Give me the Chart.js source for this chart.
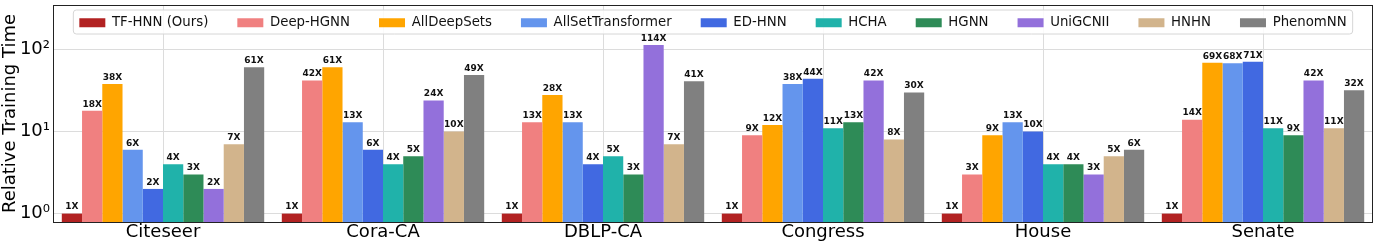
<!DOCTYPE html>
<html lang="en">
<head>
    <script src="https://cdn.jsdelivr.net/npm/chart.js"></script>
    <style>
        html, body { margin: 0; padding: 0; background: #fff; }
    </style>
</head>
<body>
    <canvas id="timeChart" width="1375" height="243"></canvas>

    <script>
        // categories (datasets of the benchmark)
        const categories = ["Citeseer", "Cora-CA", "DBLP-CA", "Congress", "House", "Senate"];

        // relative training time per method, one value per category
        const tfHnn = [1, 1, 1, 1, 1, 1];
        const deepHgnn = [18, 42, 13, 9, 3, 14];
        const allDeepSets = [38, 61, 28, 12, 9, 69];
        const allSetTransformer = [6, 13, 13, 38, 13, 68];
        const edHnn = [2, 6, 4, 44, 10, 71];
        const hcha = [4, 4, 5, 11, 4, 11];
        const hgnn = [3, 5, 3, 13, 4, 9];
        const uniGcnii = [2, 24, 114, 42, 3, 42];
        const hnhn = [7, 10, 7, 8, 5, 11];
        const phenomNN = [61, 49, 41, 30, 6, 32];

        const seriesNames = ["TF-HNN (Ours)", "Deep-HGNN", "AllDeepSets", "AllSetTransformer", "ED-HNN",
                             "HCHA", "HGNN", "UniGCNII", "HNHN", "PhenomNN"];
        const seriesValues = [tfHnn, deepHgnn, allDeepSets, allSetTransformer, edHnn,
                              hcha, hgnn, uniGcnii, hnhn, phenomNN];
        const seriesColors = ["#b22222", "#f08080", "#ffa500", "#6495ed", "#4169e1",
                              "#20b2aa", "#2e8b57", "#9370db", "#d2b48c", "#808080"];

        // y axis ticks
        const yTickValues = [1, 10, 100];
        const yTickLabels = ["10\u2070", "10\u00b9", "10\u00b2"];

        Chart.defaults.font.family = "'DejaVu Sans', sans-serif";
        Chart.defaults.color = "#000";

        // legend sits inside the plot: zero height in the layout, drawn after the bars on a light box
        const legendBox = {
            id: "legendBox",
            afterInit(chart) {
                const lg = chart.legend;
                const fit = lg.fit;
                lg.fit = function () { fit.call(this); this.height = 0; };
                lg._layers = () => [{ z: 1, draw: (area) => lg.draw(area) }];
            },
            beforeDraw(chart) {
                // padding is also the item spacing, so place the row by hand
                const lg = chart.legend;
                const a = chart.chartArea;
                const shift = (a.left + a.right) / 2 - (lg.left + lg.right) / 2;
                lg.left += shift;
                lg.right += shift;
                lg.top = a.top + 11 - lg.options.labels.padding;
                lg.height = 80;
                lg.bottom = lg.top + lg.height;
            },
            afterDatasetsDraw(chart) {
                const boxes = chart.legend.legendHitBoxes;
                if (!boxes || !boxes.length) return;
                const last = boxes[boxes.length - 1];
                const span = last.left + last.width - boxes[0].left + 12;
                const a = chart.chartArea;
                const cx = (a.left + a.right) / 2;
                const x0 = cx - span / 2;
                const y0 = a.top + 5;
                const ctx = chart.ctx;
                ctx.save();
                ctx.beginPath();
                ctx.roundRect(x0, y0, span, 24, 3);
                ctx.fillStyle = "rgba(255,255,255,0.85)";
                ctx.fill();
                ctx.strokeStyle = "#d6d6d6";
                ctx.lineWidth = 1;
                ctx.stroke();
                ctx.restore();
            }
        };

        // "NX" labels on top of each bar + axes frame
        const barLabels = {
            id: "barLabels",
            afterDatasetsDraw(chart) {
                const ctx = chart.ctx;
                ctx.save();
                ctx.font = "bold 9px 'DejaVu Sans'";
                ctx.fillStyle = "#111";
                ctx.textAlign = "center";
                ctx.textBaseline = "bottom";
                chart.data.datasets.forEach((ds, i) => {
                    chart.getDatasetMeta(i).data.forEach((bar, j) => {
                        ctx.fillText(ds.data[j] + "X", bar.x, bar.y - 2);
                    });
                });
                const a = chart.chartArea;
                ctx.strokeStyle = "#222";
                ctx.lineWidth = 1;
                ctx.strokeRect(a.left + 0.5, a.top + 0.5, a.right - a.left - 1, a.bottom - a.top);
                ctx.restore();
            }
        };

        new Chart(document.getElementById("timeChart").getContext("2d"), {
            type: "bar",
            data: {
                labels: categories,
                datasets: seriesNames.map((name, i) => ({
                    label: name,
                    data: seriesValues[i],
                    backgroundColor: seriesColors[i],
                    borderWidth: 0,
                    barPercentage: 1,
                    categoryPercentage: 0.92
                }))
            },
            options: {
                responsive: false,
                animation: false,
                layout: { padding: { top: 5, right: 2, left: 0, bottom: 0 } },
                scales: {
                    x: {
                        grid: { offset: false, color: "#dcdcdc", drawTicks: false },
                        border: { display: false },
                        ticks: { font: { size: 18 }, padding: 0, color: "#000" },
                        afterFit: s => { s.height = 21; s.paddingLeft = 0; s.paddingRight = 0; }
                    },
                    y: {
                        type: "logarithmic",
                        min: 0.79,
                        max: 350,
                        grid: { color: "#dcdcdc", drawTicks: false },
                        border: { display: false },
                        afterBuildTicks: s => { s.ticks = yTickValues.map(v => ({ value: v })); },
                        ticks: {
                            font: { size: 18 },
                            padding: 3,
                            color: "#000",
                            callback: (v, idx) => yTickLabels[idx]
                        },
                        title: {
                            display: true,
                            text: "Relative Training Time",
                            font: { size: 18 },
                            padding: 0,
                            color: "#000"
                        },
                        afterFit: s => { s.width = 53; s.paddingTop = 0; s.paddingBottom = 0; }
                    }
                },
                plugins: {
                    legend: {
                        position: "top",
                        align: "center",
                        fullSize: true,
                        labels: {
                            boxWidth: 26,
                            boxHeight: 9,
                            padding: 29,
                            font: { size: 13.3 },
                            color: "#111"
                        }
                    },
                    tooltip: { enabled: false }
                }
            },
            plugins: [legendBox, barLabels]
        });
    </script>
</body>
</html>
